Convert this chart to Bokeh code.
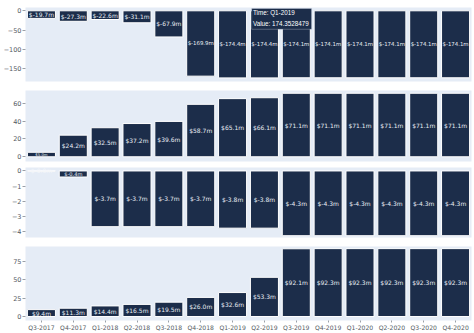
from bokeh.plotting import figure
from bokeh.layouts import column
from bokeh.models import ColumnDataSource, FixedTicker, BoxAnnotation, Label, Range1d, FactorRange
from bokeh.embed import file_html
from bokeh.resources import INLINE
from bokeh.core.properties import value

quarters = ["Q3-2017", "Q4-2017", "Q1-2018", "Q2-2018", "Q3-2018", "Q4-2018", "Q1-2019",
            "Q2-2019", "Q3-2019", "Q4-2019", "Q1-2020", "Q2-2020", "Q3-2020", "Q4-2020"]
panel1 = [-19.7, -27.3, -22.6, -31.1, -67.9, -169.9, -174.4, -174.4, -174.1, -174.1, -174.1, -174.1, -174.1, -174.1]
panel2 = [5.0, 24.2, 32.5, 37.2, 39.6, 58.7, 65.1, 66.1, 71.1, 71.1, 71.1, 71.1, 71.1, 71.1]
panel3 = [-0.02, -0.4, -3.7, -3.7, -3.7, -3.7, -3.8, -3.8, -4.3, -4.3, -4.3, -4.3, -4.3, -4.3]
panel4 = [9.4, 11.3, 14.4, 16.5, 19.5, 26.0, 32.6, 53.3, 92.1, 92.3, 92.3, 92.3, 92.3, 92.3]
ticks1 = [0, -50, -100, -150]
ticks2 = [0, 20, 40, 60]
ticks3 = [0, -1, -2, -3, -4]
ticks4 = [0, 25, 50, 75]
hover_time = "Q1-2019"
hover_value = "174.3528479"

BAR = "#1c2d4a"
BG = "#e5ecf6"
TXT = "#e9edf4"
FONT = "DejaVu Sans"

# (values, y range, ticks, height, top border, bottom border)
specs = [
    (panel1, (-183.8, 8.6), ticks1, 85, 7, 4),
    (panel2, (-5.3, 74.2), ticks2, 80, 5, 4),
    (panel3, (-4.42, 0.23), ticks3, 77, 2, 5),
    (panel4, (-5.4, 95.2), ticks4, 91, 4, 12),
]

figs = []
for k, (vals, yr, ticks, h, tb, bb) in enumerate(specs):
    p = figure(width=474, height=h, output_backend="svg", toolbar_location=None,
               x_range=FactorRange(factors=quarters, range_padding=0),
               y_range=Range1d(*yr), min_border_left=19, min_border_right=3,
               min_border_top=tb, min_border_bottom=bb)
    p.background_fill_color = BG
    p.border_fill_color = "white"
    p.outline_line_color = None
    p.grid.visible = False
    frame_h = h - tb - bb
    ppu = frame_h / (yr[1] - yr[0])
    labels, ty, fs, tc = [], [], [], []
    for v in vals:
        lab = f"${v:.1f}m"
        labels.append(lab)
        hp = abs(v) * ppu
        size = min(6.0, 26.0 / (0.6 * len(lab)))
        if hp < 3:
            ty.append(0)
            tc.append("#f4f6fa")
        else:
            size = min(size, 0.85 * hp)
            ty.append(v / 2)
            tc.append(TXT)
        fs.append(f"{size:.2f}px")
    src = ColumnDataSource(dict(q=quarters, v=vals, ty=ty, label=labels, fs=fs, tc=tc))
    p.vbar(x="q", top="v", bottom=0, width=0.88, source=src,
           fill_color=BAR, line_color="white", line_width=1)
    p.text(x="q", y="ty", text="label", source=src, text_font_size="fs",
           text_color="tc", text_align="center", text_baseline="middle",
           text_font=value(FONT))
    p.yaxis.ticker = FixedTicker(ticks=ticks)
    p.yaxis.axis_line_color = None
    p.yaxis.major_tick_in = 0
    p.yaxis.major_tick_out = 3
    p.yaxis.major_tick_line_color = "#9aa0a8"
    p.yaxis.minor_tick_line_color = None
    p.yaxis.major_label_standoff = 1
    p.yaxis.major_label_text_font = FONT
    p.yaxis.major_label_text_font_size = "6.5px"
    p.yaxis.major_label_text_color = "#555b63"
    if k < 3:
        p.xaxis.visible = False
    else:
        p.xaxis.axis_line_color = None
        p.xaxis.major_tick_in = 0
        p.xaxis.major_tick_out = 2
        p.xaxis.major_tick_line_color = "#9aa0a8"
        p.xaxis.minor_tick_line_color = None
        p.xaxis.major_label_standoff = 1
        p.xaxis.major_label_text_font = FONT
        p.xaxis.major_label_text_font_size = "6.1px"
        p.xaxis.major_label_text_color = "#555b63"
    figs.append(p)

# hover tooltip shown in the reference (top panel)
i = quarters.index(hover_time)
p1 = figs[0]
p1.add_layout(BoxAnnotation(left=i + 1.1, right=i + 2.98, top=6, bottom=-48,
                            fill_color=BAR, fill_alpha=1, line_color="#dfe5ee", line_width=1))
p1.add_layout(Label(x=i + 1.14, y=-5, text=f"Time: {hover_time}", text_color="white",
                    text_font="Liberation Sans", text_font_size="6.3px", text_baseline="middle"))
p1.add_layout(Label(x=i + 1.14, y=-33, text=f"Value: {hover_value}", text_color="white",
                    text_font="Liberation Sans", text_font_size="6.3px", text_baseline="middle"))

layout = column(*figs, spacing=0)
open("out.html", "w").write(file_html(layout, INLINE))
